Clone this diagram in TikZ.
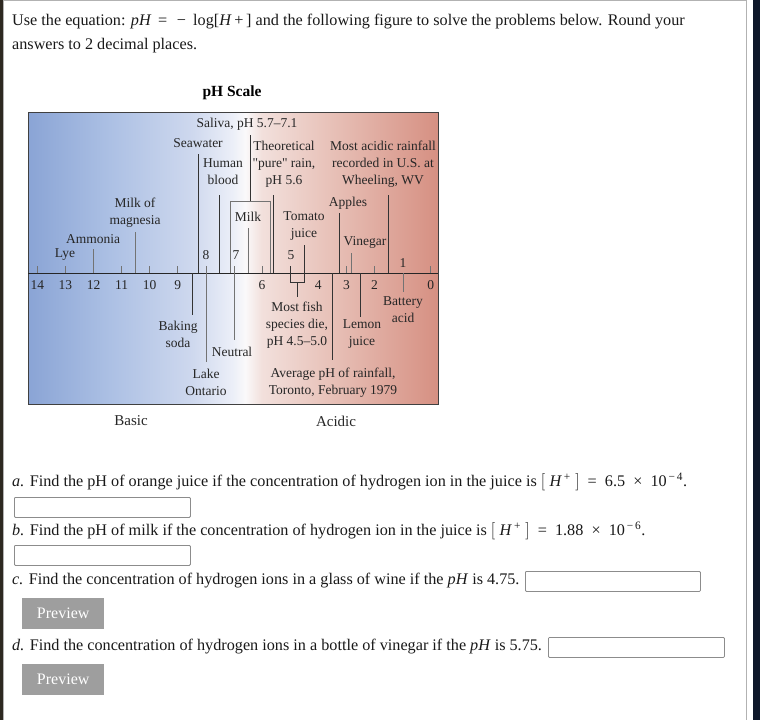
\documentclass[tikz,border=0pt]{standalone}
\usepackage{fontspec}
\setmainfont{Liberation Serif}
\definecolor{gA}{RGB}{138,164,213}
\definecolor{gB}{RGB}{172,192,228}
\definecolor{gC}{RGB}{206,216,238}
\definecolor{gD}{RGB}{236,239,248}
\definecolor{gE}{RGB}{250,249,250}
\definecolor{gF}{RGB}{242,224,220}
\definecolor{gG}{RGB}{234,200,192}
\definecolor{gH}{RGB}{214,144,130}
\definecolor{chromeL}{RGB}{45,40,32}
\definecolor{chromeR}{RGB}{14,24,42}
\definecolor{btn}{RGB}{158,158,158}
\pgfdeclarehorizontalshading{phgrad}{100bp}{color(0bp)=(gA); color(25bp)=(gA); color(35bp)=(gB); color(45bp)=(gC); color(50bp)=(gD); color(51.5bp)=(gE); color(53.5bp)=(gF); color(60bp)=(gG); color(75bp)=(gH); color(100bp)=(gH)}
\newcommand{\hconc}{$\left[\vrule height 12pt depth 5pt width 0pt\mbox{\;\textit{H}\textsuperscript{\,+}\;}\right]$}
\newcommand{\straightq}{{\addfontfeatures{Ligatures=TeXOff}"}}
\begin{document}
\begin{tikzpicture}[x=1pt,y=-1pt,
  body/.style={font=\fontsize{16.2}{19}\selectfont, anchor=west, inner sep=0pt, text=black!90},
  lbl/.style={font=\fontsize{13.5}{17}\selectfont, align=center, inner sep=0pt, text=black!85},
  num/.style={font=\fontsize{13.5}{17}\selectfont, inner sep=0pt, text=black!85},
  dk/.style={draw=black!80, line width=0.8pt},
  lt/.style={draw=black!55, line width=0.8pt},
  ansbox/.style={draw=black!45, fill=white, line width=0.8pt, rounded corners=1pt},
  btnbox/.style={fill=btn, text=white, font=\fontsize{16}{19}\selectfont, inner sep=0pt}]
\useasboundingbox (0,0) rectangle (760,720);
\fill[white] (0,0) rectangle (760,720);
\fill[chromeL] (0,0) rectangle (3,720);
\fill[chromeR] (753,0) rectangle (760,720);
\draw[black!30] (3.5,0) -- (3.5,720);
\draw[black!30] (746.5,0) -- (746.5,720);
\draw[black!30] (3,0.5) -- (747,0.5);

% header text
\node[body] (intro1) at (12,22) {Use the equation: \textit{pH}\, = \,\,−\;\,log[\textit{H}\,+\,] and the following figure to solve the problems below. Round your};
\node[body] (intro2) at (12,46) {answers to 2 decimal places.};

% figure
\node[font=\fontsize{15.5}{19}\selectfont\bfseries, inner sep=0pt] (title) at (232,93) {pH Scale};
\shade[shading=phgrad] (28,112) rectangle (438,404);
\draw[black!75, line width=0.9pt] (28,112) rectangle (438,404);
\draw[black!85, line width=1pt] (28,273) coordinate (axL) -- (438,273) coordinate (axR);

\foreach \p in {0,...,14} \coordinate (t\p) at ({37.3+(14-\p)*28.1},273);
\foreach \p in {14,13,11,10,9,8,7,6,5,3,2,0} \draw[lt] (t\p) -- ++(0,-7);
\foreach \p in {14,13,12,11,10,9,6,4,3,2,0} \node[num] (n\p) at ([yshift=-12pt]t\p) {\p};
\node[num] (n8) at (206,255) {8};
\node[num] (n7) at (236,255) {7};
\node[num] (n5) at (291,255) {5};
\node[num] (n1) at (403,263) {1};

% labels above axis
\node[lbl] (saliva) at (247,124) {Saliva, pH 5.7–7.1};
\node[lbl] (seawater) at (198,143) {Seawater};
\node[lbl] (blood) at (223,172) {Human\\blood};
\node[lbl] (rain) at (284,164.5) {Theoretical\\\straightq pure\straightq{} rain,\\pH 5.6};
\node[lbl] (wheeling) at (383,164.5) {Most acidic rainfall\\recorded in U.S. at\\Wheeling, WV};
\node[lbl] (magnesia) at (135,212.5) {Milk of\\magnesia};
\node[lbl] (ammonia) at (93,239) {Ammonia};
\node[lbl] (lye) at (65,255) {Lye};
\node[lbl] (milk) at (248,217) {Milk};
\node[lbl] (tomato) at (304,226) {Tomato\\juice};
\node[lbl] (apples) at (348,203) {Apples};
\node[lbl] (vinegar) at (365,242) {Vinegar};

% labels below axis
\node[lbl] (baking) at (178,334.5) {Baking\\soda};
\node[lbl] (neutral) at (232,352) {Neutral};
\node[lbl] (lake) at (206,382.5) {Lake\\Ontario};
\node[lbl] (fish) at (297,325.5) {Most fish\\species die,\\pH 4.5–5.0};
\node[lbl] (lemon) at (362,334.5) {Lemon\\juice};
\node[lbl] (battery) at (403,310) {Battery\\acid};
\node[lbl] (average) at (333,383) {Average pH of rainfall,\\Toronto, February 1979};

\node[font=\fontsize{15}{18}\selectfont, inner sep=0pt, text=black!85] (basic) at (131,421) {Basic};
\node[font=\fontsize{15}{18}\selectfont, inner sep=0pt, text=black!85] (acidic) at (336,421) {Acidic};

% leader lines above axis
\coordinate (cAmm) at (93.5,249);   \draw[lt] (cAmm) -- (cAmm |- axL);
\coordinate (cMag) at (135,232);    \draw[lt] (cMag) -- (cMag |- axL);
\coordinate (cSea) at (198,154);    \draw[dk] (cSea) -- (cSea |- axL);
\coordinate (cBlood) at (219,195);  \draw[dk] (cBlood) -- (cBlood |- axL);
\coordinate (cBoxTL) at (230,201);  \coordinate (cBoxBR) at (270,273);
\draw[lt] (cBoxTL |- axL) -- (cBoxTL) -- (cBoxBR |- cBoxTL) -- (cBoxBR);
\coordinate (cSal) at (250,135);    \draw[dk] (cSal) -- (cSal |- cBoxTL);
\coordinate (cMilk) at (248,228);   \draw[lt] (cMilk) -- (cMilk |- axL);
\coordinate (cRain) at (273,195);   \draw[dk] (cRain) -- (cRain |- axL);
\coordinate (cTom) at (304,245);    \coordinate (cBr) at (304,282);
\draw[dk] (cTom) -- (cBr) -- (cBr -| t5) -- ([yshift=7pt]t5);
\coordinate (cStem) at (297,282);   \draw[dk] (cStem) -- ++(0,15);
\coordinate (cApp) at (339,213);    \draw[dk] (cApp) -- (cApp |- axL);
\coordinate (cVin) at (351,253);    \draw[lt] (cVin) -- (cVin |- axL);
\coordinate (cWV) at (388,195);     \draw[dk] (cWV) -- (cWV |- axL);

% leader lines below axis
\coordinate (cBak) at (192,315);    \draw[dk] (cBak |- axL) -- (cBak);
\coordinate (cLake) at (206,362);   \draw[lt] (206,266) -- (cLake);
\coordinate (cNeu) at (234,340);    \draw[lt] (234,266) -- (cNeu);
\coordinate (cAvg) at (332,360);    \draw[dk] (cAvg |- axL) -- (cAvg);
\coordinate (cLem) at (360,317);    \draw[dk] (cLem |- axL) -- (cLem);
\coordinate (cBat) at (403,292);    \draw[lt] (cBat |- axL) -- (cBat);

% questions
\node[body] (qa) at (12,482) {\textit{a.} Find the pH of orange juice if the concentration of hydrogen ion in the juice is \hconc\enspace=\enspace6.5\enspace×\enspace10\textsuperscript{\,−\,4}.};
\node[ansbox, minimum width=176pt, minimum height=20pt, anchor=north west] (boxa) at (14,497) {};
\node[body] (qb) at (12,531) {\textit{b.} Find the pH of milk if the concentration of hydrogen ion in the juice is \hconc\enspace=\enspace1.88\enspace×\enspace10\textsuperscript{\,−\,6}.};
\node[ansbox, minimum width=176pt, minimum height=20pt, anchor=north west] (boxb) at (14,545) {};
\node[body] (qc) at (12,581) {\textit{c.} Find the concentration of hydrogen ions in a glass of wine if the \textit{pH} is 4.75.};
\node[ansbox, minimum width=175pt, minimum height=20pt, anchor=north west] (boxc) at (525,571) {};
\node[btnbox, minimum width=82pt, minimum height=31pt, anchor=north west] (prev1) at (22,598) {Preview};
\node[body] (qd) at (12,647) {\textit{d.} Find the concentration of hydrogen ions in a bottle of vinegar if the \textit{pH} is 5.75.};
\node[ansbox, minimum width=176pt, minimum height=20pt, anchor=north west] (boxd) at (548,637) {};
\node[btnbox, minimum width=82pt, minimum height=31pt, anchor=north west] (prev2) at (22,664) {Preview};
\end{tikzpicture}
\end{document}
